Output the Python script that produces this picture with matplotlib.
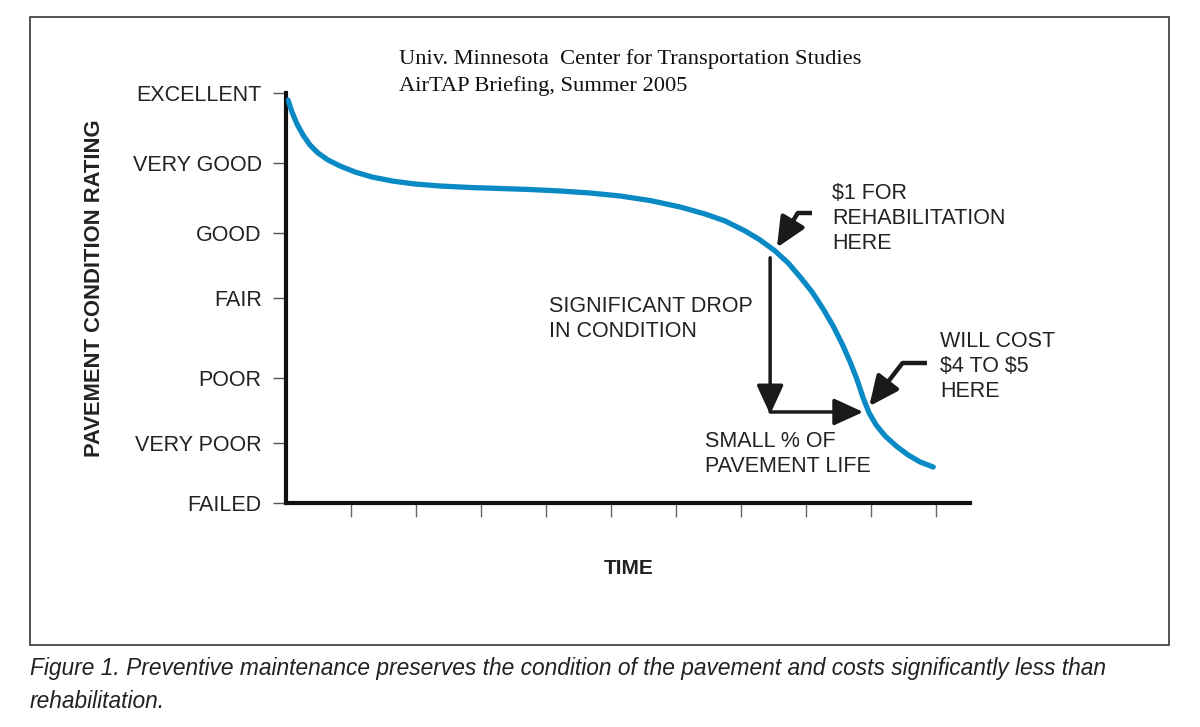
import matplotlib.pyplot as plt
from matplotlib.patches import Rectangle

# pavement condition curve (time units, rating 0-100)
time = [0.031, 0.092, 0.169, 0.262, 0.369, 0.492, 0.646, 0.831, 1.062, 1.323,
        1.631, 1.985, 2.369, 2.831, 3.292, 3.754, 4.215, 4.677, 5.138, 5.6,
        6.062, 6.446, 6.754, 7.062, 7.292, 7.523, 7.723, 7.908, 8.092, 8.262,
        8.415, 8.554, 8.677, 8.785, 8.877, 8.969, 9.077, 9.215, 9.385, 9.569,
        9.754, 9.954]
rating = [98.29, 95.37, 92.44, 89.76, 87.32, 85.37, 83.66, 82.20, 80.73, 79.51,
          78.54, 77.80, 77.32, 76.95, 76.71, 76.46, 76.10, 75.61, 74.88, 73.78,
          72.20, 70.49, 68.78, 66.34, 64.15, 61.46, 58.54, 55.12, 51.46, 47.32,
          43.17, 38.78, 34.39, 30.0, 25.61, 21.95, 19.02, 16.34, 13.90, 11.71,
          10.0, 8.78]

rating_ticks = [100, 82.9, 65.9, 49.9, 30.6, 14.6, 0]
rating_labels = ['EXCELLENT', 'VERY GOOD', 'GOOD', 'FAIR', 'POOR', 'VERY POOR', 'FAILED']
time_ticks = [1, 2, 3, 4, 5, 6, 7, 8, 9, 10]

W, H = 1200, 727
fig = plt.figure(figsize=(12, 7.27), dpi=100)
plt.rcParams['font.family'] = ['Liberation Sans', 'DejaVu Sans']

# px -> figure fraction
def fx(px):
    return px / W
def fy(py):
    return 1 - py / H

ax = fig.add_axes([fx(286), fy(503), (970 - 286) / W, (503 - 93) / H])
ax.set_xlim(0, 10.52)
ax.set_ylim(0, 100)
ax.spines['top'].set_visible(False)
ax.spines['right'].set_visible(False)
ax.spines['left'].set_linewidth(3)
ax.spines['bottom'].set_linewidth(3)
ax.spines['left'].set_color('#111111')
ax.spines['bottom'].set_color('#111111')

ax.set_yticks(rating_ticks)
ax.set_yticklabels(rating_labels)
ax.set_xticks(time_ticks)
ax.set_xticklabels([])
ax.tick_params(axis='y', direction='out', length=9.5, width=1, color='#555555',
               pad=8, labelsize=15.5, labelcolor='#222222')
ax.tick_params(axis='x', direction='out', length=10, width=1, color='#666666')

ax.plot(time, rating, color='#0a8ac4', lw=3.8, solid_capstyle='round',
        solid_joinstyle='round', zorder=3)

TXT = '#222222'
AR = '#1a1a1a'
head = '-|>,head_length=1.2,head_width=0.55'

# significant drop arrows
ax.annotate('', xy=(7.446, 21.6), xytext=(7.446, 59.8),
            arrowprops=dict(arrowstyle=head, lw=2.5, color=AR, mutation_scale=15,
                            shrinkA=0, shrinkB=0))
ax.annotate('', xy=(8.877, 22.2), xytext=(7.446, 22.2),
            arrowprops=dict(arrowstyle=head, lw=2.5, color=AR, mutation_scale=15,
                            shrinkA=0, shrinkB=0))

# bent arrows pointing at the curve
ax.plot([8.09, 7.86], [70.7, 70.7], color=AR, lw=3.2, solid_capstyle='butt')
ax.annotate('', xy=(7.55, 62.3), xytext=(7.87, 70.7),
            arrowprops=dict(arrowstyle=head, lw=3.2, color=AR, mutation_scale=15,
                            shrinkA=0, shrinkB=0))
ax.plot([9.86, 9.47], [34.1, 34.1], color=AR, lw=3.2, solid_capstyle='butt')
ax.annotate('', xy=(8.97, 23.6), xytext=(9.48, 34.1),
            arrowprops=dict(arrowstyle=head, lw=3.2, color=AR, mutation_scale=15,
                            shrinkA=0, shrinkB=0))

fs = 15.5
ax.text(8.4, 69.3, '\\$1 FOR\nREHABILITATION\nHERE', fontsize=fs, color=TXT,
        va='center', ha='left', linespacing=1.25)
ax.text(4.046, 44.9, 'SIGNIFICANT DROP\nIN CONDITION', fontsize=fs, color=TXT,
        va='center', ha='left', linespacing=1.25)
ax.text(10.06, 33.2, 'WILL COST\n\\$4 TO \\$5\nHERE', fontsize=fs, color=TXT,
        va='center', ha='left', linespacing=1.25, clip_on=False)
ax.text(6.446, 12.0, 'SMALL % OF\nPAVEMENT LIFE', fontsize=fs, color=TXT,
        va='center', ha='left', linespacing=1.25)

# axis titles
fig.text(fx(629), fy(569), 'TIME', fontsize=15, fontweight='bold', color=TXT,
         ha='center', va='center')
fig.text(fx(95), fy(288), 'PAVEMENT CONDITION RATING', fontsize=15.8, fontweight='bold',
         color=TXT, ha='center', va='center', rotation=90)

# source note
fig.text(fx(399), fy(59), 'Univ. Minnesota  Center for Transportation Studies',
         family='Liberation Serif', fontsize=16.2, color='#111111', va='center')
fig.text(fx(399), fy(86), 'AirTAP Briefing, Summer 2005',
         family='Liberation Serif', fontsize=16.2, color='#111111', va='center')

# frame
fig.patches.append(Rectangle((fx(30), fy(645)), (1169 - 30) / W, (645 - 17) / H,
                             transform=fig.transFigure, fill=False,
                             edgecolor='#444444', lw=1.3))

# caption
cap1 = 'Figure 1. Preventive maintenance preserves the condition of the pavement and costs significantly less than'
fig.text(fx(30), fy(668), cap1, fontsize=16.4, style='italic', color='#222222', va='center')
fig.text(fx(30), fy(701), 'rehabilitation.', fontsize=16.4, style='italic', color='#222222',
         va='center')

fig.savefig('out.png', dpi=100)
